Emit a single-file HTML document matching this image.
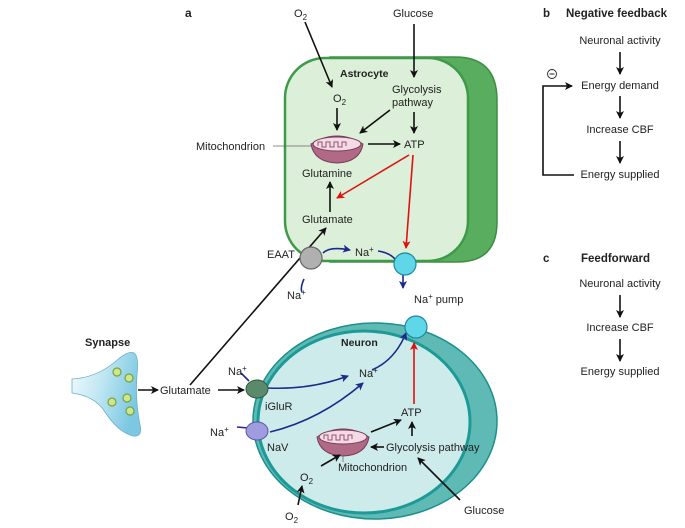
<!DOCTYPE html>
<html><head><style>body{margin:0;background:#fff}svg{display:block;font-family:"Liberation Sans",sans-serif}</style></head><body>
<svg width="685" height="528" viewBox="0 0 685 528" xmlns="http://www.w3.org/2000/svg">
<defs>
<marker id="k" markerWidth="8" markerHeight="8" refX="7" refY="4" orient="auto" markerUnits="userSpaceOnUse"><path d="M0,0 L8,4 L0,8 L2,4z" fill="#111"/></marker>
<marker id="r" markerWidth="8" markerHeight="8" refX="7" refY="4" orient="auto" markerUnits="userSpaceOnUse"><path d="M0,0 L8,4 L0,8 L2,4z" fill="#e01010"/></marker>
<marker id="b" markerWidth="8" markerHeight="8" refX="7" refY="4" orient="auto" markerUnits="userSpaceOnUse"><path d="M0,0 L8,4 L0,8 L2,4z" fill="#1c2a8c"/></marker>
<linearGradient id="syn" x1="0" y1="0" x2="1" y2="0.3"><stop offset="0" stop-color="#f4fbfd"/><stop offset="0.5" stop-color="#bfe6f2"/><stop offset="1" stop-color="#7cc8e2"/></linearGradient>
</defs>
<g font-size="11" fill="#222">
<text x="185" y="17" font-weight="bold" font-size="12">a</text>
<path d="M330,57 L455,57 Q497,57 497,100 L497,222 Q497,262 457,262 L330,262 Z" fill="#58ad5e" stroke="#3d8d44" stroke-width="1.5"/>
<rect x="285" y="58" width="183" height="203" rx="40" fill="#dcefd8" stroke="#3e9a48" stroke-width="2.5"/>
<ellipse cx="375" cy="421" rx="122" ry="98" fill="#5fbab6" stroke="#1d8f8b" stroke-width="1.5"/>
<ellipse cx="364" cy="422" rx="106" ry="91" fill="#cdebea" stroke="#1d9a95" stroke-width="3"/>
<path d="M72,379 Q95,378 115,362 Q128,350 134,353 Q139,356 137,375 Q135,400 140,425 Q143,437 133,436 Q118,432 105,412 Q95,396 72,393 Z" fill="url(#syn)" stroke="#6ab0cc" stroke-width="0.8"/>
<g fill="#cde88a" stroke="#7aa040" stroke-width="1.2"><circle cx="117" cy="372" r="4"/><circle cx="129" cy="378" r="4"/><circle cx="112" cy="402" r="4"/><circle cx="127" cy="398" r="4"/><circle cx="130" cy="411" r="4"/></g>
<text x="85" y="346" font-weight="bold">Synapse</text>

<text x="294" y="17">O<tspan font-size="8" dy="3">2</tspan></text>
<text x="393" y="17">Glucose</text>
<text x="340" y="77" font-weight="bold" font-size="10.5">Astrocyte</text>
<text x="333" y="102">O<tspan font-size="8" dy="3">2</tspan></text>
<text x="392" y="93">Glycolysis</text><text x="392" y="106">pathway</text>
<text x="196" y="150">Mitochondrion</text>
<line x1="273" y1="146" x2="318" y2="146" stroke="#666" stroke-width="0.8"/>
<text x="404" y="148">ATP</text>
<text x="302" y="177">Glutamine</text>
<text x="302" y="223">Glutamate</text>
<text x="267" y="258">EAAT</text>
<text x="287" y="299">Na<tspan font-size="8" dy="-4">+</tspan></text>
<text x="355" y="256">Na<tspan font-size="8" dy="-4">+</tspan></text>
<text x="414" y="303">Na<tspan font-size="8" dy="-4">+</tspan><tspan dy="4"> pump</tspan></text>

<g><path d="M311,144 Q337,128 363,144 Q360,162 337,163 Q314,162 311,144Z" fill="#b06a86" stroke="#7a3c58"/><ellipse cx="337" cy="144" rx="24" ry="7" fill="#f3dbe5" stroke="#7a3c58"/><path d="M318,146 l0,-4 h4 v5 h4 v-5 h4 v5 h4 v-5 h4 v5 h4 v-5 h4 v4" fill="none" stroke="#9a5070"/></g>
<g><path d="M317,437 Q343,421 369,437 Q366,455 343,456 Q320,455 317,437Z" fill="#b06a86" stroke="#7a3c58"/><ellipse cx="343" cy="437" rx="24" ry="7" fill="#f3dbe5" stroke="#7a3c58"/><path d="M324,439 l0,-4 h4 v5 h4 v-5 h4 v5 h4 v-5 h4 v5 h4 v-5 h4 v4" fill="none" stroke="#9a5070"/></g>

<g stroke="#111" stroke-width="1.6" fill="none" marker-end="url(#k)">
<line x1="305" y1="22" x2="332" y2="87"/>
<line x1="414" y1="24" x2="414" y2="77"/>
<line x1="337" y1="108" x2="337" y2="130"/>
<line x1="390" y1="110" x2="360" y2="133"/>
<line x1="414" y1="112" x2="414" y2="133"/>
<line x1="368" y1="144" x2="400" y2="144"/>
<line x1="330" y1="212" x2="330" y2="182"/>
<line x1="190" y1="385" x2="326" y2="228"/>
<line x1="138" y1="390" x2="158" y2="390"/>
<line x1="218" y1="390" x2="244" y2="390"/>
<line x1="321" y1="466" x2="340" y2="455"/>
<line x1="298" y1="505" x2="302" y2="486"/>
<line x1="371" y1="432" x2="401" y2="420"/>
<line x1="412" y1="436" x2="412" y2="422"/>
<line x1="384" y1="447" x2="371" y2="447"/>
<line x1="460" y1="500" x2="418" y2="458"/>
</g>
<text x="160" y="394">Glutamate</text>
<g stroke="#e01010" stroke-width="1.6" fill="none" marker-end="url(#r)">
<line x1="409" y1="155" x2="337" y2="198"/>
<line x1="413" y1="155" x2="406" y2="248"/>
<line x1="414" y1="404" x2="414" y2="343"/>
</g>
<g stroke="#1c2a8c" stroke-width="1.6" fill="none">
<path d="M323,253 Q330,246 350,250" marker-end="url(#b)"/>
<path d="M378,251 Q392,253 397,262"/>
<path d="M403,272 L403,288" marker-end="url(#b)"/>
<path d="M304,279 Q300,288 302,292"/>
<path d="M268,388 Q310,390 348,376" marker-end="url(#b)"/>
<path d="M270,432 Q320,420 363,383" marker-end="url(#b)"/>
<path d="M372,370 Q395,360 406,333" marker-end="url(#b)"/>
<path d="M237,427 L248,428"/>
<path d="M241,373 L249,381"/>
</g>
<circle cx="311" cy="258" r="11" fill="#b0b0b0" stroke="#666" stroke-width="1.2"/>
<circle cx="405" cy="264" r="11" fill="#5fd7e8" stroke="#1e8aa0" stroke-width="1.2"/>
<circle cx="416" cy="327" r="11" fill="#5fd7e8" stroke="#1e8aa0" stroke-width="1.2"/>
<ellipse cx="257" cy="389" rx="11" ry="9" fill="#5b8a6a" stroke="#2f5a3e"/>
<ellipse cx="257" cy="431" rx="11" ry="9" fill="#9f9ce0" stroke="#5a58a0"/>
<text x="341" y="346" font-weight="bold" font-size="10.5">Neuron</text>
<text x="228" y="375">Na<tspan font-size="8" dy="-4">+</tspan></text>
<text x="265" y="410">iGluR</text>
<text x="210" y="436">Na<tspan font-size="8" dy="-4">+</tspan></text>
<text x="267" y="451">NaV</text>
<text x="359" y="377">Na<tspan font-size="8" dy="-4">+</tspan></text>
<text x="401" y="416">ATP</text>
<text x="386" y="451">Glycolysis pathway</text>
<text x="338" y="471">Mitochondrion</text>
<line x1="343" y1="456" x2="343" y2="462" stroke="#666" stroke-width="0.8"/>
<text x="300" y="481">O<tspan font-size="8" dy="3">2</tspan></text>
<text x="285" y="520">O<tspan font-size="8" dy="3">2</tspan></text>
<text x="464" y="514">Glucose</text>

<text x="543" y="17" font-weight="bold" font-size="11.5">b</text>
<text x="566" y="17" font-weight="bold" font-size="11.5">Negative feedback</text>
<g text-anchor="middle">
<text x="620" y="44">Neuronal activity</text>
<text x="620" y="89">Energy demand</text>
<text x="620" y="133">Increase CBF</text>
<text x="620" y="178">Energy supplied</text>
<text x="620" y="287">Neuronal activity</text>
<text x="620" y="331">Increase CBF</text>
<text x="620" y="375">Energy supplied</text>
</g>
<g stroke="#111" stroke-width="1.6" fill="none" marker-end="url(#k)">
<line x1="620" y1="52" x2="620" y2="74"/>
<line x1="620" y1="96" x2="620" y2="118"/>
<line x1="620" y1="141" x2="620" y2="163"/>
<line x1="620" y1="295" x2="620" y2="317"/>
<line x1="620" y1="339" x2="620" y2="361"/>
<polyline points="574,175 543,175 543,86 572,86"/>
</g>
<circle cx="552" cy="74" r="4.5" fill="none" stroke="#222" stroke-width="0.9"/><line x1="549.5" y1="74" x2="554.5" y2="74" stroke="#222"/>
<text x="543" y="262" font-weight="bold" font-size="11.5">c</text>
<text x="581" y="262" font-weight="bold" font-size="11.5">Feedforward</text>
</g>
</svg>
</body></html>
